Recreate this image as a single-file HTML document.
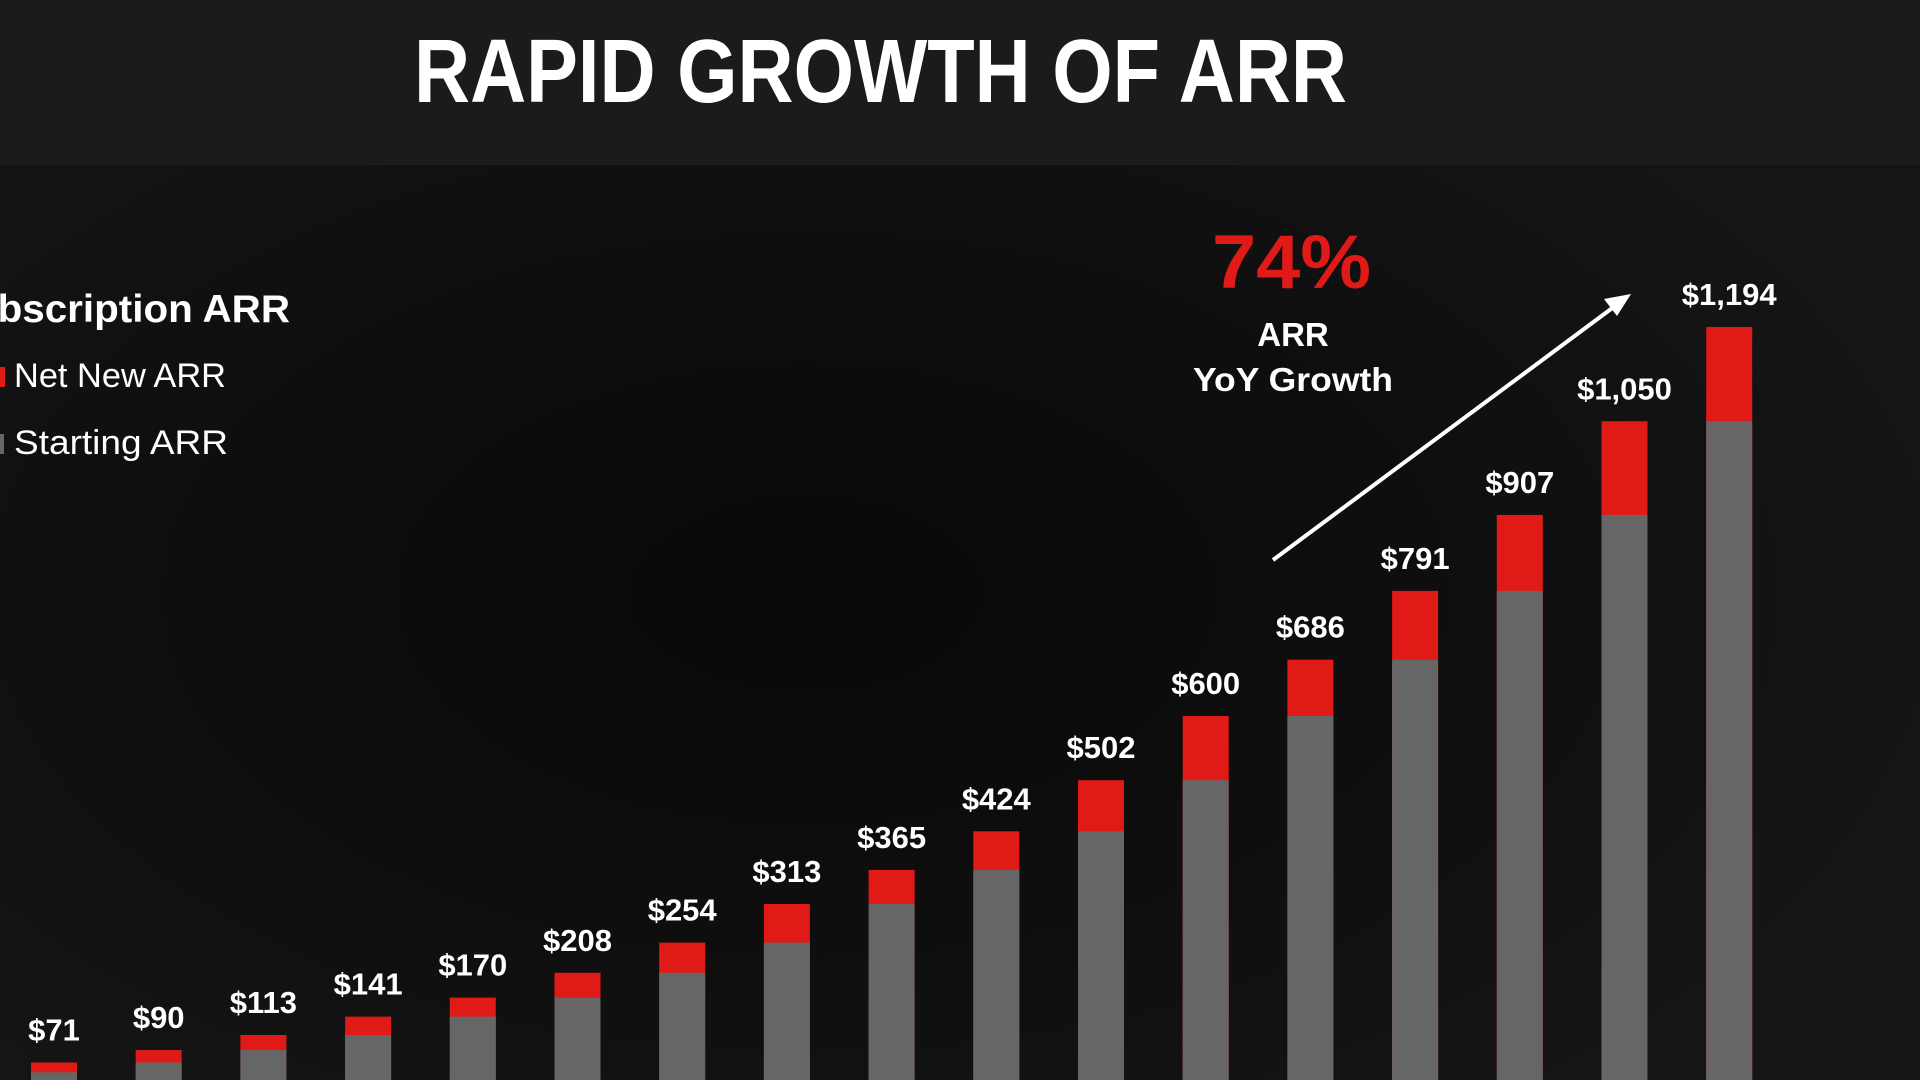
<!DOCTYPE html>
<html><head><meta charset="utf-8"><style>
html,body{margin:0;padding:0;background:#131313;}
svg{display:block;}
text{font-family:"Liberation Sans",sans-serif;fill:#fff;font-weight:bold;}
</style></head><body>
<svg width="1920" height="1080" viewBox="0 0 1920 1080" xmlns="http://www.w3.org/2000/svg">
<defs>
<radialGradient id="bg" cx="0.42" cy="0.55" r="0.6">
<stop offset="0" stop-color="#090909"/>
<stop offset="0.6" stop-color="#0f0f0f"/>
<stop offset="1" stop-color="#151515"/>
</radialGradient>
</defs>
<rect width="1920" height="1080" fill="url(#bg)"/>
<rect width="1920" height="165" fill="#1b1b1b"/>
<text x="414" y="102" font-size="90" textLength="933" lengthAdjust="spacingAndGlyphs">RAPID GROWTH OF ARR</text>

<text x="-54" y="322" font-size="39" textLength="344" lengthAdjust="spacingAndGlyphs">Subscription ARR</text>
<rect x="0" y="367" width="5" height="20" fill="#e01a16"/>
<text x="14" y="387" font-size="34" style="font-weight:normal" textLength="212" lengthAdjust="spacingAndGlyphs">Net New ARR</text>
<rect x="0" y="434" width="4" height="20" fill="#666"/>
<text x="14" y="454" font-size="34" style="font-weight:normal" textLength="214" lengthAdjust="spacingAndGlyphs">Starting ARR</text>

<text x="1212" y="288" font-size="76" style="fill:#e01a16" textLength="159" lengthAdjust="spacingAndGlyphs">74%</text>
<text x="1293" y="346" font-size="33" text-anchor="middle">ARR</text>
<text x="1293" y="391" font-size="33" text-anchor="middle" textLength="200" lengthAdjust="spacingAndGlyphs">YoY Growth</text>

<line x1="1273" y1="560" x2="1615" y2="306" stroke="#fff" stroke-width="4"/>
<polygon points="1631,294 1604,299 1617,316" fill="#fff"/>

<g id="bars"></g>
</svg>
<script>
var v=[56,71,90,113,141,170,208,254,313,365,424,502,600,686,791,907,1050,1194];
var g=document.getElementById('bars'),ns="http://www.w3.org/2000/svg";
function y(x){return 1109-0.655*x;}
for(var i=1;i<v.length;i++){
 var cx=54+104.7*(i-1),l=cx-23;
 var r=document.createElementNS(ns,'rect');
 r.setAttribute('x',l);r.setAttribute('width',46);r.setAttribute('y',y(v[i]));r.setAttribute('height',1080-y(v[i]));r.setAttribute('fill','#e01a16');g.appendChild(r);
 var s=document.createElementNS(ns,'rect');
 s.setAttribute('x',l);s.setAttribute('width',46);s.setAttribute('y',y(v[i-1]));s.setAttribute('height',1080-y(v[i-1]));s.setAttribute('fill','#666');g.appendChild(s);
 var t=document.createElementNS(ns,'text');
 t.setAttribute('x',cx);t.setAttribute('y',y(v[i])-22);t.setAttribute('font-size','31');t.setAttribute('text-anchor','middle');
 t.textContent='$'+v[i].toLocaleString('en-US');g.appendChild(t);
}
</script>
</body></html>
